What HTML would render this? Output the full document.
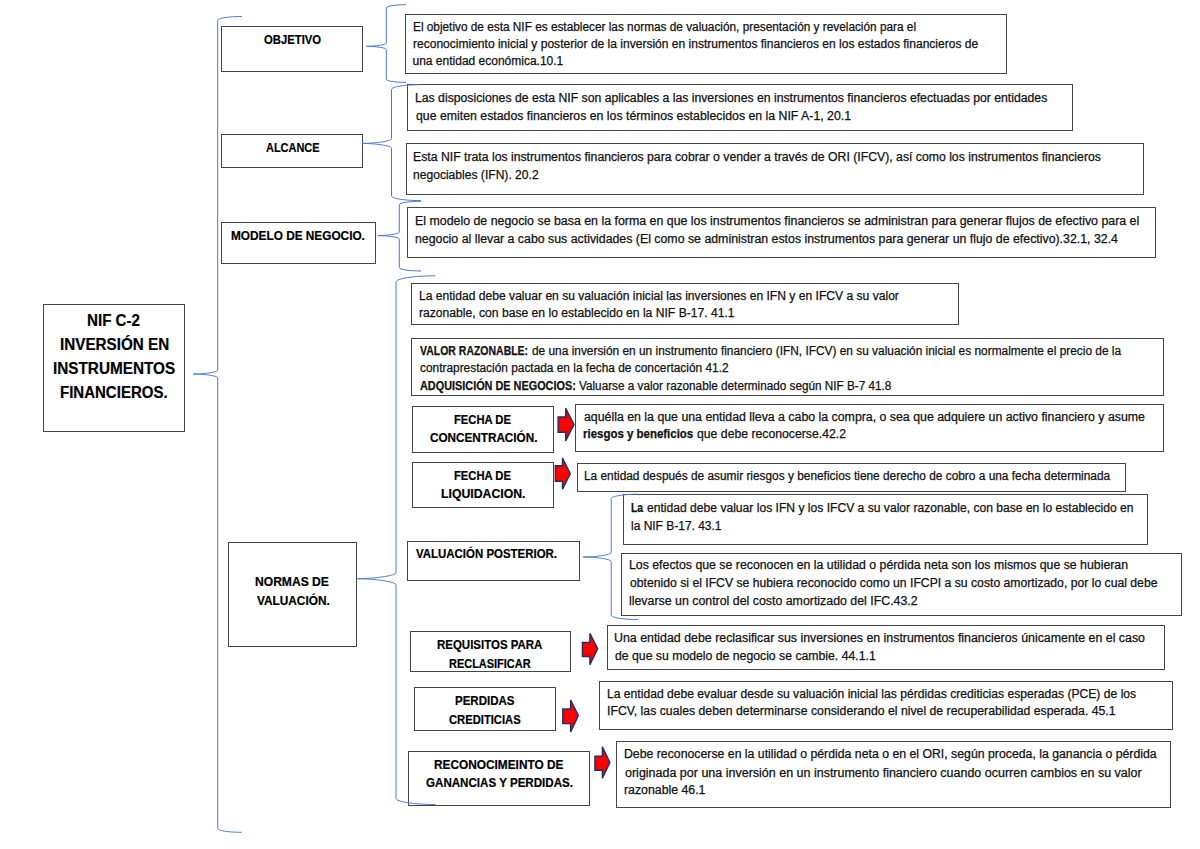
<!DOCTYPE html>
<html><head><meta charset="utf-8"><title>NIF C-2</title>
<style>
html,body{margin:0;padding:0;background:#fff;}
body{width:1200px;height:849px;position:relative;overflow:hidden;font-family:"Liberation Sans",sans-serif;color:#111;}
.bx{position:absolute;box-sizing:border-box;border:1px solid #454545;background:transparent;}
.l{position:absolute;white-space:pre;transform-origin:0 0;}
.t{font-size:15.6px;line-height:15.6px;font-weight:bold;color:#000;-webkit-text-stroke:0.2px #000;}
.h{font-size:12.2px;line-height:12.2px;font-weight:bold;color:#000;-webkit-text-stroke:0.2px #000;}
.b{font-size:12px;line-height:12px;-webkit-text-stroke:0.25px #111;}
b{font-weight:bold;}
svg{position:absolute;left:0;top:0;}
</style></head><body>

<div class="bx" style="left:43px;top:304px;width:142px;height:128px"></div>
<div class="bx" style="left:221px;top:26px;width:142px;height:46px"></div>
<div class="bx" style="left:221px;top:134px;width:142px;height:34px"></div>
<div class="bx" style="left:221px;top:222px;width:155px;height:42px"></div>
<div class="bx" style="left:228px;top:542px;width:129px;height:105px"></div>
<div class="bx" style="left:405px;top:14px;width:602px;height:60px"></div>
<div class="bx" style="left:407px;top:84px;width:666px;height:47px"></div>
<div class="bx" style="left:406px;top:143px;width:738px;height:52px"></div>
<div class="bx" style="left:407px;top:207px;width:749px;height:51px"></div>
<div class="bx" style="left:411px;top:283px;width:548px;height:42px"></div>
<div class="bx" style="left:411px;top:338px;width:753px;height:58px"></div>
<div class="bx" style="left:412px;top:406px;width:142px;height:47px"></div>
<div class="bx" style="left:575px;top:404px;width:589px;height:48px"></div>
<div class="bx" style="left:412px;top:462px;width:142px;height:46px"></div>
<div class="bx" style="left:577px;top:463px;width:549px;height:29px"></div>
<div class="bx" style="left:407px;top:541px;width:173px;height:40px"></div>
<div class="bx" style="left:623px;top:494px;width:525px;height:51px"></div>
<div class="bx" style="left:621px;top:553px;width:561px;height:63px"></div>
<div class="bx" style="left:410px;top:631px;width:161px;height:41px"></div>
<div class="bx" style="left:607px;top:625px;width:558px;height:45px"></div>
<div class="bx" style="left:414px;top:687px;width:142px;height:44px"></div>
<div class="bx" style="left:599px;top:681px;width:574px;height:49px"></div>
<div class="bx" style="left:408px;top:751px;width:182px;height:55px"></div>
<div class="bx" style="left:616px;top:741px;width:555px;height:67px"></div>
<div class="l t" style="left:87.23px;top:313px;transform:scaleX(0.9717)"><b>NIF C-2</b></div>
<div class="l t" style="left:59.52px;top:337px;transform:scaleX(0.9773)"><b>INVERSIÓN EN</b></div>
<div class="l t" style="left:52.92px;top:361px;transform:scaleX(0.9813)"><b>INSTRUMENTOS</b></div>
<div class="l t" style="left:60.14px;top:385px;transform:scaleX(0.9627)"><b>FINANCIEROS.</b></div>
<div class="l h" style="left:263.90px;top:34px;transform:scaleX(0.9262)"><b>OBJETIVO</b></div>
<div class="l h" style="left:265.60px;top:142px;transform:scaleX(0.8983)"><b>ALCANCE</b></div>
<div class="l h" style="left:230.73px;top:230px;transform:scaleX(0.9693)"><b>MODELO DE NEGOCIO.</b></div>
<div class="l h" style="left:255.31px;top:576px;transform:scaleX(0.9918)"><b>NORMAS DE</b></div>
<div class="l h" style="left:256.50px;top:595px;transform:scaleX(0.9703)"><b>VALUACIÓN.</b></div>
<div class="l h" style="left:453.78px;top:414px;transform:scaleX(0.9197)"><b>FECHA DE</b></div>
<div class="l h" style="left:429.50px;top:432px;transform:scaleX(0.9613)"><b>CONCENTRACIÓN.</b></div>
<div class="l h" style="left:453.78px;top:470px;transform:scaleX(0.9197)"><b>FECHA DE</b></div>
<div class="l h" style="left:440.69px;top:488px;transform:scaleX(1.0061)"><b>LIQUIDACION.</b></div>
<div class="l h" style="left:415.90px;top:548px;transform:scaleX(0.9393)"><b>VALUACIÓN POSTERIOR.</b></div>
<div class="l h" style="left:436.56px;top:639px;transform:scaleX(0.9414)"><b>REQUISITOS PARA</b></div>
<div class="l h" style="left:448.50px;top:658px;transform:scaleX(0.8989)"><b>RECLASIFICAR</b></div>
<div class="l h" style="left:454.76px;top:695px;transform:scaleX(0.9435)"><b>PERDIDAS</b></div>
<div class="l h" style="left:449.40px;top:714px;transform:scaleX(0.9205)"><b>CREDITICIAS</b></div>
<div class="l h" style="left:433.93px;top:759px;transform:scaleX(0.9720)"><b>RECONOCIMEINTO DE</b></div>
<div class="l h" style="left:425.90px;top:777px;transform:scaleX(0.9506)"><b>GANANCIAS Y PERDIDAS.</b></div>
<div class="l b" style="left:412.52px;top:21px;transform:scaleX(0.9845)">El objetivo de esta NIF es establecer las normas de valuación, presentación y revelación para el</div>
<div class="l b" style="left:412.50px;top:38px;transform:scaleX(1.0027)">reconocimiento inicial y posterior de la inversión en instrumentos financieros en los estados financieros de</div>
<div class="l b" style="left:412.50px;top:55px;transform:scaleX(1.0000)">una entidad económica.10.1</div>
<div class="l b" style="left:414.68px;top:92px;transform:scaleX(1.0192)">Las disposiciones de esta NIF son aplicables a las inversiones en instrumentos financieros efectuadas por entidades</div>
<div class="l b" style="left:415.70px;top:110px;transform:scaleX(1.0255)">que emiten estados financieros en los términos establecidos en la NIF A-1, 20.1</div>
<div class="l b" style="left:413.48px;top:151px;transform:scaleX(1.0202)">Esta NIF trata los instrumentos financieros para cobrar o vender a través de ORI (IFCV), así como los instrumentos financieros</div>
<div class="l b" style="left:413.49px;top:169px;transform:scaleX(1.0073)">negociables (IFN). 20.2</div>
<div class="l b" style="left:414.67px;top:215px;transform:scaleX(1.0311)">El modelo de negocio se basa en la forma en que los instrumentos financieros se administran para generar flujos de efectivo para el</div>
<div class="l b" style="left:414.67px;top:233px;transform:scaleX(1.0281)">negocio al llevar a cabo sus actividades (El como se administran estos instrumentos para generar un flujo de efectivo).32.1, 32.4</div>
<div class="l b" style="left:418.59px;top:290px;transform:scaleX(1.0076)">La entidad debe valuar en su valuación inicial las inversiones en IFN y en IFCV a su valor</div>
<div class="l b" style="left:418.59px;top:307px;transform:scaleX(1.0109)">razonable, con base en lo establecido en la NIF B-17. 41.1</div>
<div class="l b" style="left:419.60px;top:345px;transform:scaleX(0.8732)"><b>VALOR RAZONABLE:</b></div>
<div class="l b" style="left:531.50px;top:345px;transform:scaleX(0.9901)">de una inversión en un instrumento financiero (IFN, IFCV) en su valuación inicial es normalmente el precio de la</div>
<div class="l b" style="left:419.60px;top:362px;transform:scaleX(0.9904)">contraprestación pactada en la fecha de concertación 41.2</div>
<div class="l b" style="left:419.60px;top:380px;transform:scaleX(0.9058)"><b>ADQUISICIÓN DE NEGOCIOS:</b></div>
<div class="l b" style="left:579.00px;top:380px;transform:scaleX(0.9784)">Valuarse a valor razonable determinado según NIF B-7 41.8</div>
<div class="l b" style="left:583.60px;top:411px;transform:scaleX(1.0279)">aquélla en la que una entidad lleva a cabo la compra, o sea que adquiere un activo financiero y asume</div>
<div class="l b" style="left:582.64px;top:428px;transform:scaleX(0.9553)"><b>riesgos y beneficios</b></div>
<div class="l b" style="left:697.00px;top:428px;transform:scaleX(1.0199)">que debe reconocerse.42.2</div>
<div class="l b" style="left:584.31px;top:470px;transform:scaleX(0.9895)">La entidad después de asumir riesgos y beneficios tiene derecho de cobro a una fecha determinada</div>
<div class="l b" style="left:630.64px;top:502px;transform:scaleX(0.8615)"><b>La</b></div>
<div class="l b" style="left:647.00px;top:502px;transform:scaleX(1.0089)">entidad debe valuar los IFN y los IFCV a su valor razonable, con base en lo establecido en</div>
<div class="l b" style="left:630.50px;top:520px;transform:scaleX(0.9978)">la NIF B-17. 43.1</div>
<div class="l b" style="left:628.77px;top:559px;transform:scaleX(1.0262)">Los efectos que se reconocen en la utilidad o pérdida neta son los mismos que se hubieran</div>
<div class="l b" style="left:629.80px;top:577px;transform:scaleX(1.0164)">obtenido si el IFCV se hubiera reconocido como un IFCPI a su costo amortizado, por lo cual debe</div>
<div class="l b" style="left:628.77px;top:595px;transform:scaleX(1.0305)">llevarse un control del costo amortizado del IFC.43.2</div>
<div class="l b" style="left:614.27px;top:632px;transform:scaleX(1.0311)">Una entidad debe reclasificar sus inversiones en instrumentos financieros únicamente en el caso</div>
<div class="l b" style="left:615.30px;top:650px;transform:scaleX(1.0204)">de que su modelo de negocio se cambie. 44.1.1</div>
<div class="l b" style="left:607.29px;top:688px;transform:scaleX(1.0105)">La entidad debe evaluar desde su valuación inicial las pérdidas crediticias esperadas (PCE) de los</div>
<div class="l b" style="left:607.28px;top:705px;transform:scaleX(1.0215)">IFCV, las cuales deben determinarse considerando el nivel de recuperabilidad esperada. 45.1</div>
<div class="l b" style="left:623.78px;top:748px;transform:scaleX(1.0237)">Debe reconocerse en la utilidad o pérdida neta o en el ORI, según proceda, la ganancia o pérdida</div>
<div class="l b" style="left:624.80px;top:767px;transform:scaleX(1.0411)">originada por una inversión en un instrumento financiero cuando ocurren cambios en su valor</div>
<div class="l b" style="left:623.77px;top:784px;transform:scaleX(1.0256)">razonable 46.1</div>
<svg width="1200" height="849" viewBox="0 0 1200 849"><g fill="none" stroke="#4A7BD0" stroke-width="1">
<path d="M241.80,16.50 C228.49,16.50 217.70,18.24 217.70,20.39 L217.70,370.11 C217.70,372.26 203.61,374.00 193.40,374.00 M193.40,374.00 C203.61,374.00 217.70,375.74 217.70,377.89 L217.70,828.41 C217.70,830.56 228.49,832.30 241.80,832.30"/>
<path d="M406.00,4.70 C395.12,4.70 386.30,6.12 386.30,7.87 L386.30,43.13 C386.30,44.88 374.82,46.30 366.50,46.30 M366.50,46.30 C374.82,46.30 386.30,47.72 386.30,49.47 L386.30,79.23 C386.30,80.98 395.12,82.40 406.00,82.40"/>
<path d="M421.00,84.70 C404.71,84.70 391.50,86.81 391.50,89.42 L391.50,138.68 C391.50,141.29 374.39,143.40 362.00,143.40 M362.00,143.40 C374.39,143.40 391.50,145.51 391.50,148.12 L391.50,195.88 C391.50,198.49 404.71,200.60 421.00,200.60"/>
<path d="M421.00,201.30 C409.02,201.30 399.30,202.84 399.30,204.74 L399.30,232.16 C399.30,234.06 386.83,235.60 377.80,235.60 M377.80,235.60 C386.83,235.60 399.30,237.14 399.30,239.04 L399.30,267.56 C399.30,269.46 409.02,271.00 421.00,271.00"/>
<path d="M435.20,275.80 C413.55,275.80 396.00,278.57 396.00,281.99 L396.00,572.51 C396.00,575.93 373.55,578.70 357.30,578.70 M357.30,578.70 C373.55,578.70 396.00,581.47 396.00,584.89 L396.00,798.31 C396.00,801.73 413.55,804.50 435.20,804.50"/>
<path d="M638.00,494.20 C623.20,494.20 611.20,496.21 611.20,498.68 L611.20,552.52 C611.20,554.99 594.96,557.00 583.20,557.00 M583.20,557.00 C594.96,557.00 611.20,559.01 611.20,561.48 L611.20,615.02 C611.20,617.49 623.20,619.50 638.00,619.50"/>
</g><g fill="#FF0000" stroke="#1B3263" stroke-width="1.4" stroke-linejoin="miter">
<polygon points="558.10,417.00 565.70,417.00 565.70,408.20 574.00,424.50 565.70,440.90 565.70,432.30 558.10,432.30"/>
<polygon points="555.30,465.80 562.50,465.80 562.50,458.00 570.30,473.70 562.50,489.20 562.50,481.30 555.30,481.30"/>
<polygon points="582.40,642.40 589.90,642.40 589.90,633.40 597.70,648.70 589.90,664.70 589.90,656.50 582.40,656.50"/>
<polygon points="562.80,709.00 570.60,709.00 570.60,700.00 578.40,715.40 570.60,731.90 570.60,723.60 562.80,723.60"/>
<polygon points="594.90,756.10 602.40,756.10 602.40,746.70 609.90,762.50 602.40,778.30 602.40,770.30 594.90,770.30"/>
</g></svg>
</body></html>
